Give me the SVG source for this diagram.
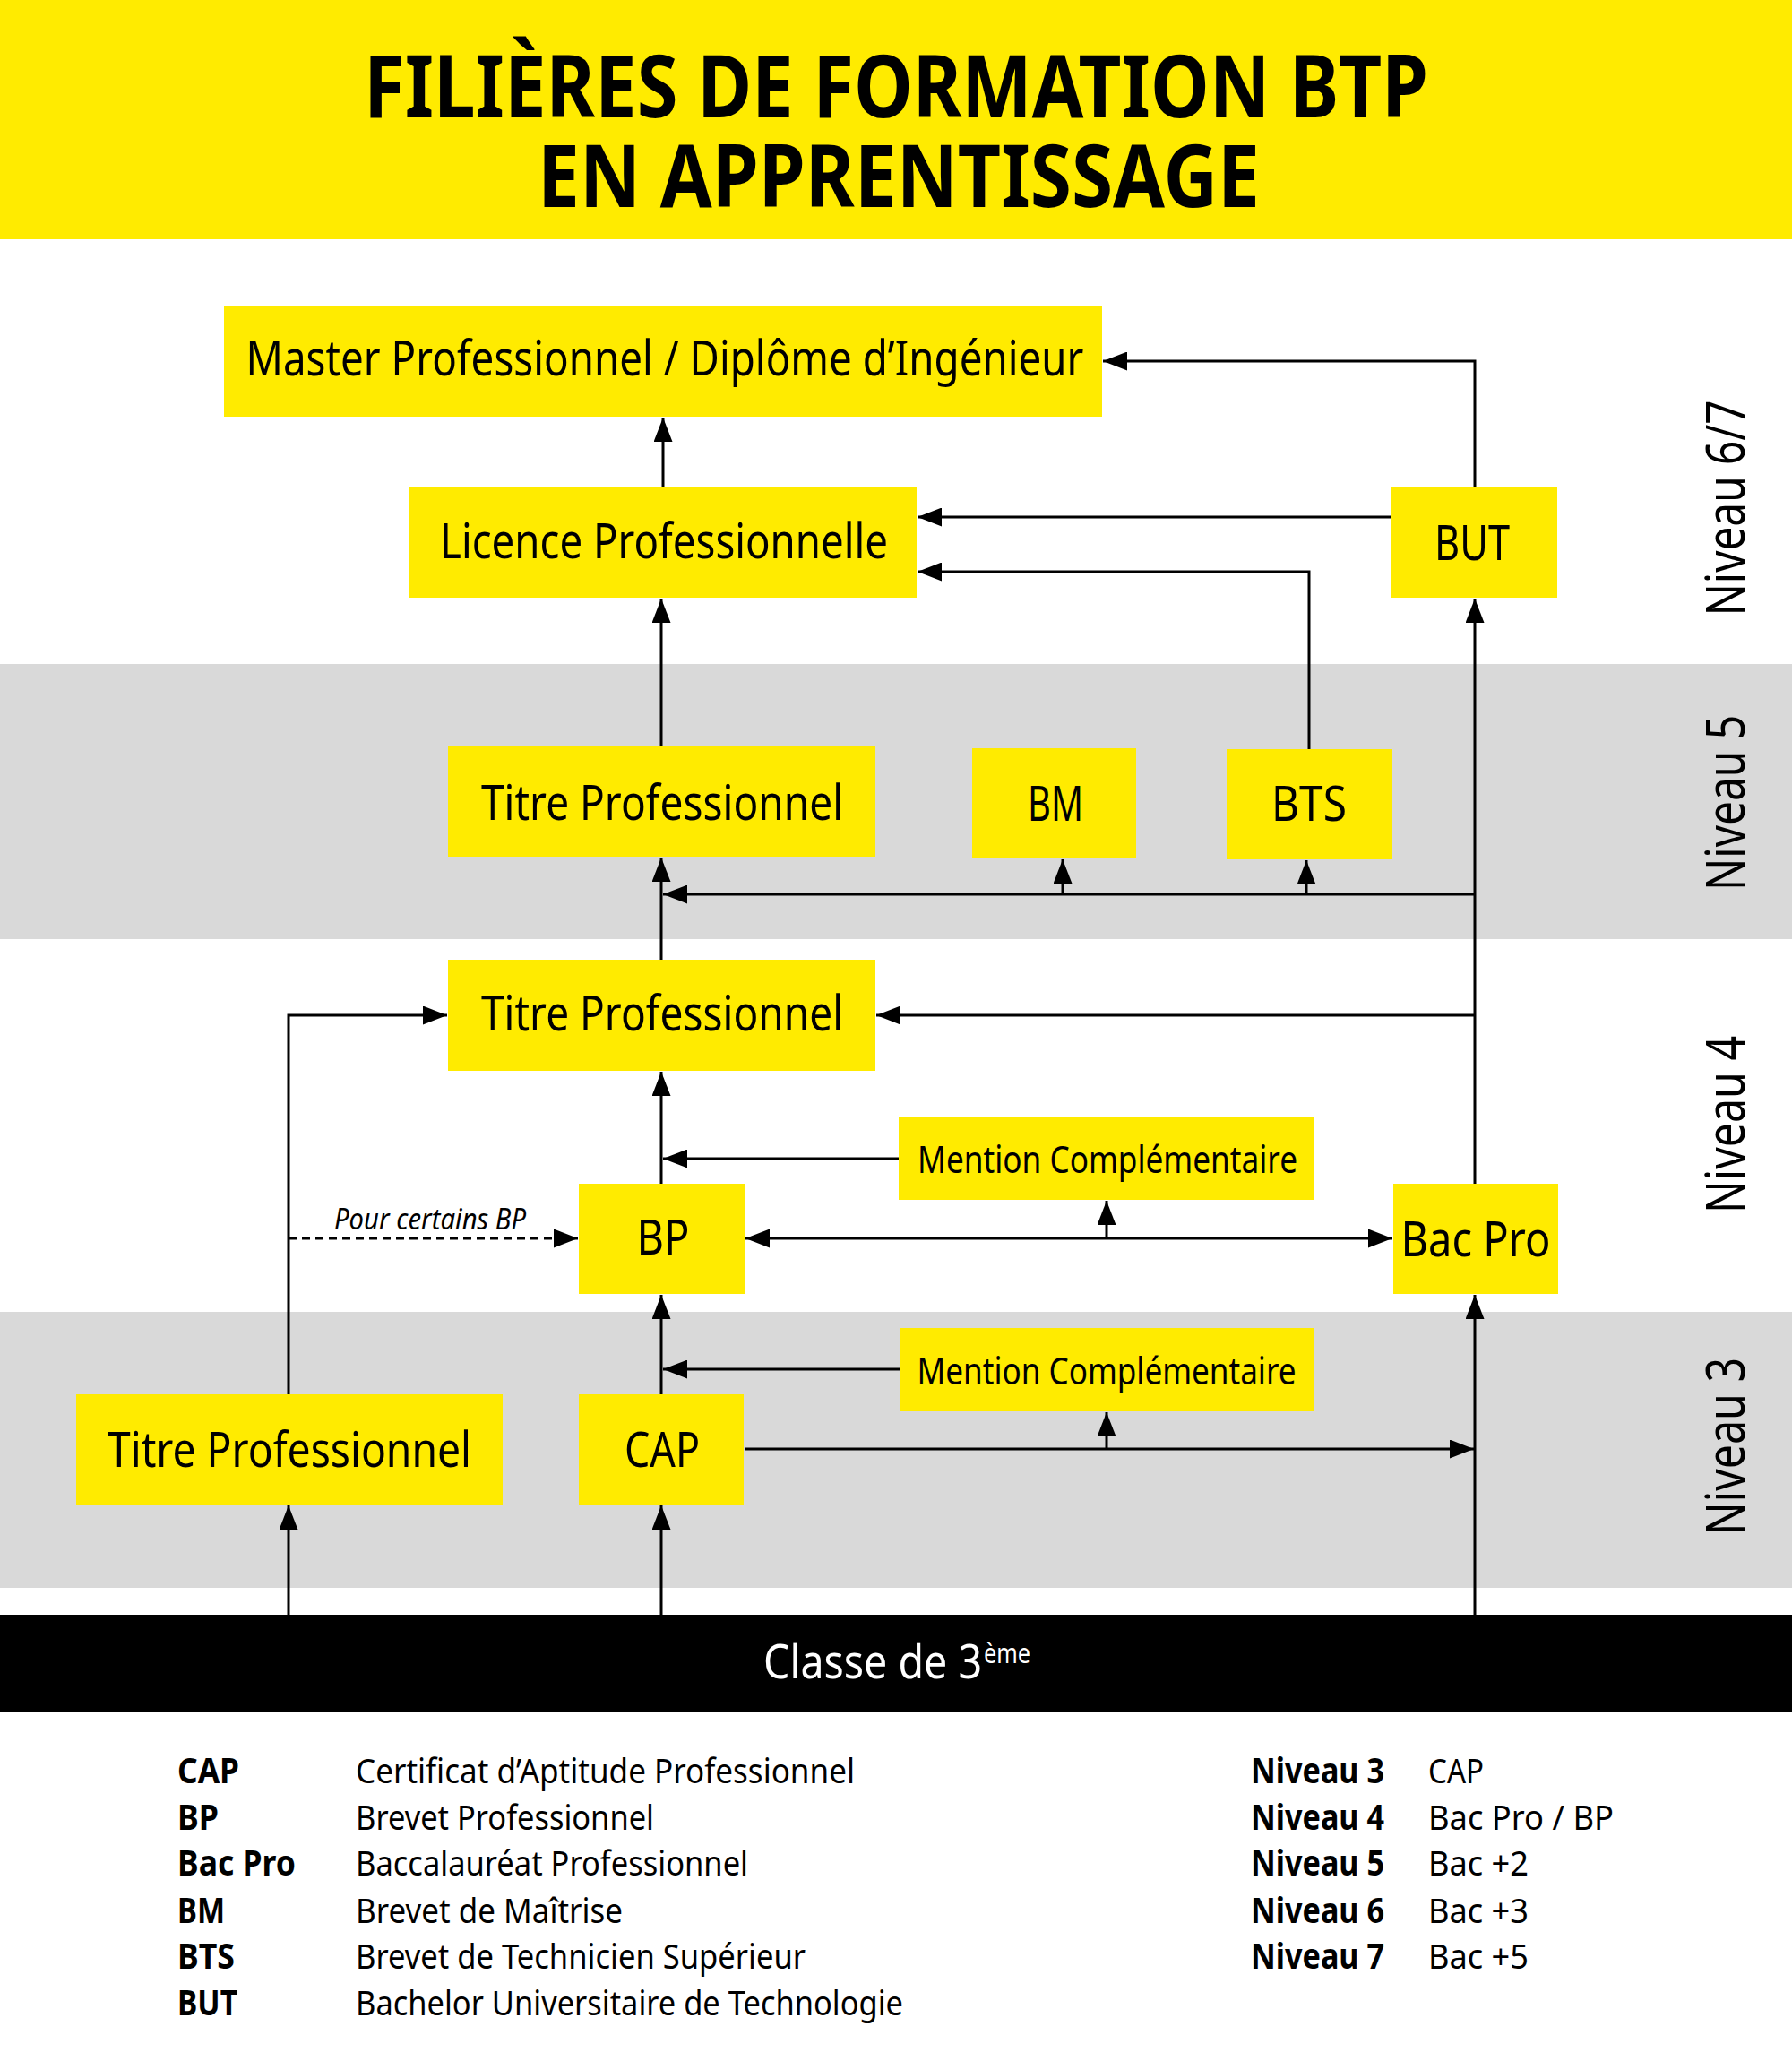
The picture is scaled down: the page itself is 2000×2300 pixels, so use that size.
<svg xmlns="http://www.w3.org/2000/svg" width="2000" height="2300" viewBox="0 0 2000 2300">
<style>
.box{fill:#FFEB00}
.t{font-family:"Noto Sans","Liberation Sans",sans-serif;fill:#000}
.bt{font-size:55px;text-anchor:middle}
.mc{font-size:42px;text-anchor:middle}
.lv{font-size:60px;text-anchor:middle}
.lg{font-size:39px}
.b{font-weight:bold}
.c{fill:none;stroke:#000;stroke-width:3}
</style>
<defs>
<marker id="ah" markerUnits="userSpaceOnUse" markerWidth="27" markerHeight="21" refX="27" refY="10.5" orient="auto-start-reverse">
<path d="M0,0 L27,10.5 L0,21 z" fill="#000"/>
</marker>
</defs>
<rect x="0" y="0" width="2000" height="267" fill="#FFEB00"/>
<text class="t b" x="1000" y="131" font-size="97" text-anchor="middle" textLength="1188" lengthAdjust="spacingAndGlyphs">FILIÈRES DE FORMATION BTP</text>
<text class="t b" x="1003" y="231" font-size="97" text-anchor="middle" textLength="806" lengthAdjust="spacingAndGlyphs">EN APPRENTISSAGE</text>
<rect x="0" y="741" width="2000" height="307" fill="#D9D9D9"/>
<rect x="0" y="1464" width="2000" height="308" fill="#D9D9D9"/>
<rect x="0" y="1802" width="2000" height="108" fill="#000"/>
<g id="connectors">
<path class="c" d="M740,544 V466" marker-end="url(#ah)"/>
<path class="c" d="M1646,544 V403 H1231" marker-end="url(#ah)"/>
<path class="c" d="M1553,577 H1024" marker-end="url(#ah)"/>
<path class="c" d="M1461,836 V638 H1024" marker-end="url(#ah)"/>
<path class="c" d="M738,833 V668" marker-end="url(#ah)"/>
<path class="c" d="M1646,1321 V668" marker-end="url(#ah)"/>
<path class="c" d="M1646,998 H740" marker-end="url(#ah)"/>
<path class="c" d="M1186,998 V959" marker-end="url(#ah)"/>
<path class="c" d="M1458,998 V960" marker-end="url(#ah)"/>
<path class="c" d="M738,1071 V957" marker-end="url(#ah)"/>
<path class="c" d="M1646,1133 H978" marker-end="url(#ah)"/>
<path class="c" d="M738,1321 V1196" marker-end="url(#ah)"/>
<path class="c" d="M1003,1293 H740" marker-end="url(#ah)"/>
<path class="c" d="M832,1382 H1554" marker-start="url(#ah)" marker-end="url(#ah)"/>
<path class="c" d="M1235,1382 V1340" marker-end="url(#ah)"/>
<path class="c" d="M322,1382 H645" stroke-dasharray="9,6" marker-end="url(#ah)"/>
<path class="c" d="M322,1556 V1133 H499" marker-end="url(#ah)"/>
<path class="c" d="M738,1556 V1445" marker-end="url(#ah)"/>
<path class="c" d="M1005,1528 H740" marker-end="url(#ah)"/>
<path class="c" d="M831,1617 H1645" marker-end="url(#ah)"/>
<path class="c" d="M1235,1617 V1576" marker-end="url(#ah)"/>
<path class="c" d="M322,1802 V1680" marker-end="url(#ah)"/>
<path class="c" d="M738,1802 V1680" marker-end="url(#ah)"/>
<path class="c" d="M1646,1802 V1445" marker-end="url(#ah)"/>
</g>
<g id="master"><rect class="box" x="250" y="342" width="980" height="123"/><text class="t bt" x="742" y="419" textLength="935" lengthAdjust="spacingAndGlyphs">Master Professionnel / Diplôme d’Ingénieur</text></g>
<g id="licence"><rect class="box" x="457" y="544" width="566" height="123"/><text class="t bt" x="741" y="623" textLength="500" lengthAdjust="spacingAndGlyphs">Licence Professionnelle</text></g>
<g id="but"><rect class="box" x="1553" y="544" width="185" height="123"/><text class="t bt" x="1643" y="625" textLength="84" lengthAdjust="spacingAndGlyphs">BUT</text></g>
<g id="titre5"><rect class="box" x="500" y="833" width="477" height="123"/><text class="t bt" x="739" y="915" textLength="404" lengthAdjust="spacingAndGlyphs">Titre Professionnel</text></g>
<g id="bm"><rect class="box" x="1085" y="835" width="183" height="123"/><text class="t bt" x="1178" y="916" textLength="62" lengthAdjust="spacingAndGlyphs">BM</text></g>
<g id="bts"><rect class="box" x="1369" y="836" width="185" height="123"/><text class="t bt" x="1461" y="916" textLength="84" lengthAdjust="spacingAndGlyphs">BTS</text></g>
<g id="titre4"><rect class="box" x="500" y="1071" width="477" height="124"/><text class="t bt" x="739" y="1150" textLength="404" lengthAdjust="spacingAndGlyphs">Titre Professionnel</text></g>
<g id="mc4"><rect class="box" x="1003" y="1247" width="463" height="92"/><text class="t mc" x="1236" y="1309" textLength="424" lengthAdjust="spacingAndGlyphs">Mention Complémentaire</text></g>
<g id="bp"><rect class="box" x="646" y="1321" width="185" height="123"/><text class="t bt" x="740" y="1400" textLength="59" lengthAdjust="spacingAndGlyphs">BP</text></g>
<g id="bacpro"><rect class="box" x="1555" y="1321" width="184" height="123"/><text class="t bt" x="1647" y="1402" textLength="167" lengthAdjust="spacingAndGlyphs">Bac Pro</text></g>
<g id="pour"><text class="t" x="480" y="1372" font-size="32" font-style="italic" text-anchor="middle" textLength="214" lengthAdjust="spacingAndGlyphs">Pour certains BP</text></g>
<g id="mc3"><rect class="box" x="1005" y="1482" width="461" height="93"/><text class="t mc" x="1235" y="1545" textLength="423" lengthAdjust="spacingAndGlyphs">Mention Complémentaire</text></g>
<g id="titre3"><rect class="box" x="85" y="1556" width="476" height="123"/><text class="t bt" x="323" y="1637" textLength="406" lengthAdjust="spacingAndGlyphs">Titre Professionnel</text></g>
<g id="cap"><rect class="box" x="646" y="1556" width="184" height="123"/><text class="t bt" x="739" y="1637" textLength="84" lengthAdjust="spacingAndGlyphs">CAP</text></g>
<g id="classe">
<text class="t" x="852" y="1873" font-size="53" fill="#fff" style="fill:#fff" textLength="244" lengthAdjust="spacingAndGlyphs">Classe de 3</text>
<text class="t" x="1098" y="1856" font-size="30" style="fill:#fff" textLength="52" lengthAdjust="spacingAndGlyphs">ème</text>
</g>
<g id="niveaux">
<text class="t lv" transform="translate(1947,567) rotate(-90)" textLength="241" lengthAdjust="spacingAndGlyphs">Niveau 6/7</text>
<text class="t lv" transform="translate(1947,896) rotate(-90)" textLength="196" lengthAdjust="spacingAndGlyphs">Niveau 5</text>
<text class="t lv" transform="translate(1947,1255) rotate(-90)" textLength="198" lengthAdjust="spacingAndGlyphs">Niveau 4</text>
<text class="t lv" transform="translate(1947,1614) rotate(-90)" textLength="198" lengthAdjust="spacingAndGlyphs">Niveau 3</text>
</g>
<g id="legend">
<text class="t lg b" x="198" y="1990" textLength="69" lengthAdjust="spacingAndGlyphs">CAP</text>
<text class="t lg b" x="198" y="2042" textLength="46" lengthAdjust="spacingAndGlyphs">BP</text>
<text class="t lg b" x="198" y="2093" textLength="132" lengthAdjust="spacingAndGlyphs">Bac Pro</text>
<text class="t lg b" x="198" y="2146" textLength="53" lengthAdjust="spacingAndGlyphs">BM</text>
<text class="t lg b" x="198" y="2197" textLength="64" lengthAdjust="spacingAndGlyphs">BTS</text>
<text class="t lg b" x="198" y="2249" textLength="67" lengthAdjust="spacingAndGlyphs">BUT</text>
<text class="t lg" x="397" y="1990" textLength="557" lengthAdjust="spacingAndGlyphs">Certificat d’Aptitude Professionnel</text>
<text class="t lg" x="397" y="2042" textLength="333" lengthAdjust="spacingAndGlyphs">Brevet Professionnel</text>
<text class="t lg" x="397" y="2093" textLength="438" lengthAdjust="spacingAndGlyphs">Baccalauréat Professionnel</text>
<text class="t lg" x="397" y="2146" textLength="298" lengthAdjust="spacingAndGlyphs">Brevet de Maîtrise</text>
<text class="t lg" x="397" y="2197" textLength="502" lengthAdjust="spacingAndGlyphs">Brevet de Technicien Supérieur</text>
<text class="t lg" x="397" y="2249" textLength="611" lengthAdjust="spacingAndGlyphs">Bachelor Universitaire de Technologie</text>
<text class="t lg b" x="1396" y="1990" textLength="149" lengthAdjust="spacingAndGlyphs">Niveau 3</text>
<text class="t lg b" x="1396" y="2042" textLength="149" lengthAdjust="spacingAndGlyphs">Niveau 4</text>
<text class="t lg b" x="1396" y="2093" textLength="149" lengthAdjust="spacingAndGlyphs">Niveau 5</text>
<text class="t lg b" x="1396" y="2146" textLength="149" lengthAdjust="spacingAndGlyphs">Niveau 6</text>
<text class="t lg b" x="1396" y="2197" textLength="149" lengthAdjust="spacingAndGlyphs">Niveau 7</text>
<text class="t lg" x="1594" y="1990" textLength="62" lengthAdjust="spacingAndGlyphs">CAP</text>
<text class="t lg" x="1594" y="2042" textLength="207" lengthAdjust="spacingAndGlyphs">Bac Pro / BP</text>
<text class="t lg" x="1594" y="2093" textLength="112" lengthAdjust="spacingAndGlyphs">Bac +2</text>
<text class="t lg" x="1594" y="2146" textLength="112" lengthAdjust="spacingAndGlyphs">Bac +3</text>
<text class="t lg" x="1594" y="2197" textLength="112" lengthAdjust="spacingAndGlyphs">Bac +5</text>
</g>
</svg>
